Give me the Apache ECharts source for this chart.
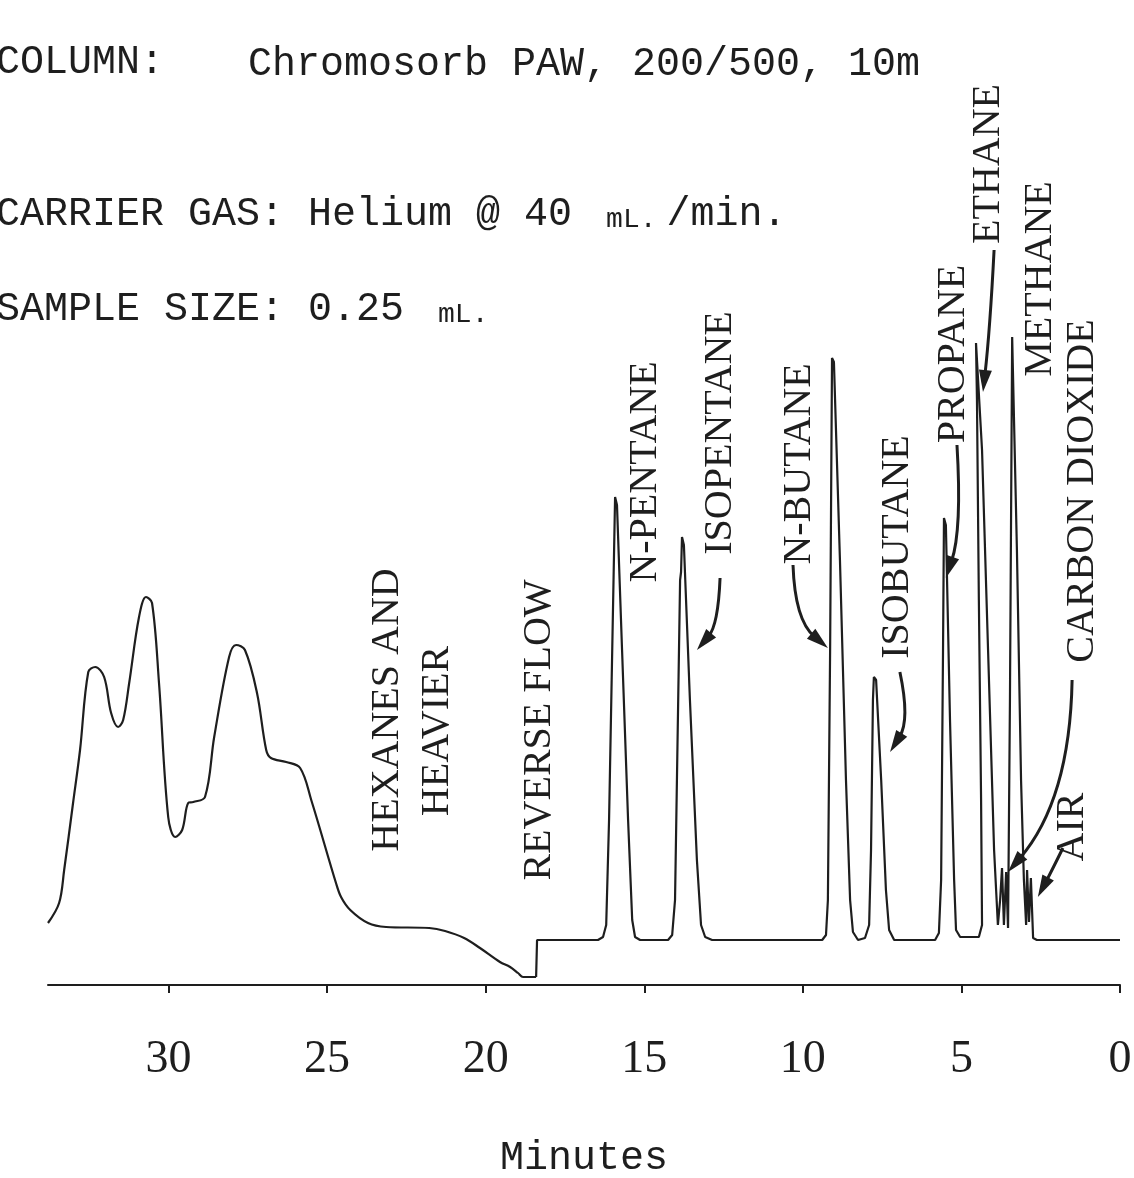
<!DOCTYPE html>
<html>
<head>
<meta charset="utf-8">
<script src="https://cdn.jsdelivr.net/npm/echarts@6/dist/echarts.min.js"></script>
<style>
html, body { margin: 0; padding: 0; background: #fff; }
#main { width: 1134px; height: 1178px; }
</style>
</head>
<body>
<div id="main"></div>
<script>
// retention time (minutes) and detector response (arbitrary units)
var heavyMin  = [33.80, 33.45, 33.29, 33.01, 32.79, 32.53, 32.31, 32.03, 31.81, 31.59, 31.43, 31.24, 30.93, 30.71, 30.52, 30.30, 30.01, 29.79, 29.57, 29.38, 29.22, 28.85, 28.56, 28.09, 27.87, 27.59, 27.21, 26.92, 26.77, 26.29, 25.85, 25.50, 24.72, 24.56, 24.27, 23.71, 23.14, 21.78];
var heavyResp = [62, 82, 115, 182, 235, 313, 318, 308, 272, 258, 265, 302, 368, 388, 382, 302, 168, 148, 155, 182, 183, 188, 248, 328, 340, 335, 292, 235, 227, 223, 217, 185, 102, 88, 75, 62, 58, 57];

var reverseMin  = [21.28, 20.68, 20.18, 19.55, 19.23, 18.98, 18.82, 18.41, 18.38];
var reverseResp = [54, 47, 37, 23, 18, 12, 8, 8, 45];

var pentaneMin  = [16.46, 16.30, 16.20, 16.11, 16.01, 15.92, 15.86, 15.70, 15.51, 15.38, 15.29, 15.13, 14.25, 14.12, 14.03, 13.93, 13.87, 13.84, 13.81, 13.75, 13.56, 13.34, 13.21, 13.08, 12.86];
var pentaneResp = [45, 48, 60, 165, 335, 488, 480, 335, 165, 65, 48, 45, 45, 50, 85, 285, 405, 413, 448, 440, 285, 125, 60, 48, 45];

var butaneMin  = [9.39, 9.27, 9.21, 9.14, 9.08, 9.02, 8.83, 8.64, 8.51, 8.42, 8.26, 8.04, 7.91, 7.85, 7.79, 7.76, 7.69, 7.53, 7.38, 7.28, 7.12];
var butaneResp = [45, 50, 85, 335, 627, 623, 425, 205, 85, 53, 45, 47, 60, 135, 285, 308, 305, 205, 95, 55, 45];

var lightMin  = [5.83, 5.71, 5.64, 5.58, 5.55, 5.49, 5.36, 5.23, 5.17, 5.04, 4.45, 4.35, 4.38, 4.45, 4.51, 4.54, 4.48, 4.35, 4.16, 3.97, 3.85, 3.78, 3.72, 3.66, 3.59, 3.53, 3.47, 3.40, 3.34, 3.25, 3.12, 3.03, 2.96, 2.93, 2.87, 2.81, 2.74, 2.62, 0];
var lightResp = [45, 52, 105, 335, 467, 460, 265, 105, 55, 48, 48, 60, 185, 385, 585, 642, 642, 535, 335, 135, 60, 85, 117, 60, 113, 57, 285, 648, 648, 435, 205, 105, 60, 115, 63, 107, 47, 45, 45];

var tickMinutes = [0, 5, 10, 15, 20, 25, 30];

// peak names and where they sit (minutes, response)
var peakNames = ['HEXANES AND', 'HEAVIER', 'REVERSE FLOW', 'N-PENTANE', 'ISOPENTANE', 'N-BUTANE', 'ISOBUTANE', 'PROPANE', 'ETHANE', 'METHANE', 'CARBON DIOXIDE', 'AIR'];
var peakNameAt = [[23.08, 275], [21.53, 254], [18.29, 255], [14.97, 513], [12.61, 552], [10.09, 521], [7.00, 438], [5.26, 631], [4.16, 821], [2.52, 706], [1.17, 494], [1.51, 158]];

// pointer arrows: start, bend, tip (minutes, response)
var arrows = [
    [[12.61, 407], [12.67, 360], [13.34, 335]],
    [[10.31, 420], [10.25, 365], [9.21, 337]],
    [[6.94, 313], [6.62, 265], [7.25, 233]],
    [[5.14, 540], [4.98, 455], [5.49, 407]],
    [[3.97, 735], [4.10, 655], [4.32, 593]],
    [[1.51, 305], [1.58, 185], [3.53, 113]],
    [[1.80, 137], [2.14, 115], [2.59, 88]]
];

function zip(a, b) {
    var out = [];
    for (var i = 0; i < a.length; i++) out.push([a[i], b[i]]);
    return out;
}

// the slow heavy-ends hump is drawn smooth, the sharp peaks straight
var reverse = zip(reverseMin, reverseResp);
var smoothPart = [].concat(zip(heavyMin, heavyResp), reverse.slice(0, reverse.length - 1));
var sharpPart = [].concat(
    reverse.slice(reverse.length - 2),
    zip(pentaneMin, pentaneResp),
    zip(butaneMin, butaneResp),
    zip(lightMin, lightResp)
);

var ink = '#1e1e1e';
var chart = echarts.init(document.getElementById('main'));

var option = {
    animation: false,
    backgroundColor: '#fff',
    grid: { left: 48, right: 14, top: 285, bottom: 193, outerBoundsMode: 'none' },
    xAxis: {
        type: 'value',
        min: 0,
        max: 33.8,
        inverse: true,
        interval: 5,
        axisLine: { lineStyle: { color: ink, width: 2 } },
        axisTick: { customValues: tickMinutes, length: 8, lineStyle: { color: ink, width: 2 } },
        axisLabel: {
            customValues: tickMinutes,
            color: ink,
            fontFamily: 'Liberation Serif',
            fontSize: 46,
            margin: 52,
            formatter: function (v) { return v % 5 === 0 ? String(v) : ''; }
        },
        splitLine: { show: false },
        name: 'Minutes',
        nameLocation: 'middle',
        nameGap: 153,
        nameTextStyle: { color: ink, fontFamily: 'Liberation Mono', fontSize: 40 }
    },
    yAxis: { type: 'value', min: 0, max: 700, show: false },
    series: [
        {
            type: 'line',
            data: smoothPart,
            smooth: 0.35,
            showSymbol: false,
            symbol: 'none',
            lineStyle: { color: ink, width: 2.2 },
            clip: false
        },
        {
            type: 'line',
            data: sharpPart,
            showSymbol: false,
            symbol: 'none',
            lineStyle: { color: ink, width: 2.2 },
            clip: false
        }
    ]
};
chart.setOption(option);

function px(p) {
    return chart.convertToPixel({ gridIndex: 0 }, p);
}

var g = [];
var mono = 'Liberation Mono';
var small = { fontFamily: mono, fontSize: 28, fill: ink, verticalAlign: 'bottom', padding: [0, 10, 0, 10] };

g.push({ type: 'text', x: -4, y: 62, style: { text: 'COLUMN:', fontFamily: mono, fontSize: 40, fill: ink, verticalAlign: 'middle' } });
g.push({ type: 'text', x: 248, y: 64, style: { text: 'Chromosorb PAW, 200/500, 10m', fontFamily: mono, fontSize: 40, fill: ink, verticalAlign: 'middle' } });
g.push({ type: 'text', x: -4, y: 214, style: {
    text: 'CARRIER GAS: Helium @ 40 {s|mL.}/min.', fontFamily: mono, fontSize: 40, fill: ink, verticalAlign: 'middle',
    rich: { s: small }
} });
g.push({ type: 'text', x: -4, y: 309, style: {
    text: 'SAMPLE SIZE: 0.25 {s|mL.}', fontFamily: mono, fontSize: 40, fill: ink, verticalAlign: 'middle',
    rich: { s: small }
} });

peakNames.forEach(function (name, i) {
    var p = px(peakNameAt[i]);
    g.push({
        type: 'text', x: p[0], y: p[1], rotation: Math.PI / 2,
        style: { text: name, fontFamily: 'Liberation Serif', fontSize: 40, fill: ink, align: 'center', verticalAlign: 'middle' }
    });
});

arrows.forEach(function (a) {
    var s = px(a[0]), c = px(a[1]), e = px(a[2]);
    var dx = e[0] - c[0], dy = e[1] - c[1];
    var len = Math.sqrt(dx * dx + dy * dy) || 1;
    var ux = dx / len, uy = dy / len;
    var hl = 22, hw = 6.5;
    var bx = e[0] - ux * hl, by = e[1] - uy * hl;
    g.push({
        type: 'bezierCurve',
        shape: { x1: s[0], y1: s[1], cpx1: c[0], cpy1: c[1], x2: bx + ux * 4, y2: by + uy * 4 },
        style: { stroke: ink, lineWidth: 3, fill: null }
    });
    g.push({
        type: 'polygon',
        shape: { points: [[e[0], e[1]], [bx - uy * hw, by + ux * hw], [bx + uy * hw, by - ux * hw]] },
        style: { fill: ink }
    });
});

chart.setOption({ graphic: g });
</script>
</body>
</html>
